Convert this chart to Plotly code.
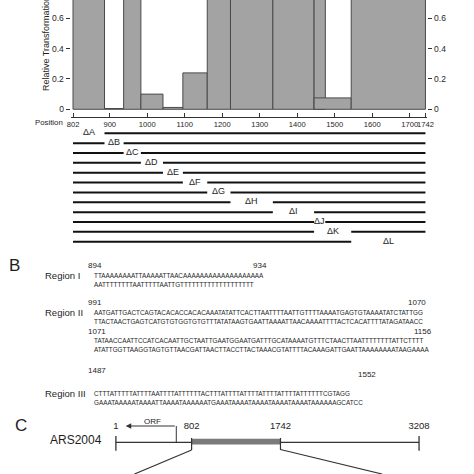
import plotly.graph_objects as go

W = H = 474

# ---------------- Panel A data ----------------
deletion_names = ["A", "B", "C", "D", "E", "F", "G", "H", "I", "J", "K", "L"]
del_start = [802, 886, 937, 983, 1042, 1095, 1160, 1222, 1335, 1445, 1445, 1544]
del_end = [886, 937, 983, 1042, 1095, 1160, 1222, 1335, 1445, 1475, 1544, 1742]
rel_transformation = [1.0, 0.005, 1.0, 0.10, 0.012, 0.24, 1.0, 1.0, 1.0, 1.0, 0.075, 1.0]
insert_start = 802
insert_end = 1742
x_tick_vals = [802, 900, 1000, 1100, 1200, 1300, 1400, 1500, 1600, 1700, 1742]
x_tick_text = ["802", "900", "1000", "1100", "1200", "1300", "1400", "1500", "1600", "1700", "1742"]
y_tick_vals = [0, 0.2, 0.4, 0.6]
y_tick_text = ["0", "0.2", "0.4", "0.6"]

# ---------------- Panel B data ----------------
region_labels = ["Region I", "Region II", "", "Region III"]
seq_start = [894, 991, 1071, 1487]
seq_end = [934, 1070, 1156, 1552]
seq_top = [
    "TTAAAAAAAATTAAAAATTAACAAAAAAAAAAAAAAAAAAA",
    "AATGATTGACTCAGTACACACCACACAAATATATTCACTTAATTTTAATTGTTTTAAAATGAGTGTAAAATATCTATTGG",
    "TATAACCAATTCCATCACAATTGCTAATTGAATGGAATGATTTGCATAAAATGTTTCTAACTTAATTTTTTTTATTCTTTT",
    "CTTTATTTTTATTTTAATTTTATTTTTTACTTTATTTTATTTTATTTTATTTTATTTTTTCGTAGG",
]
seq_bottom = [
    "AATTTTTTTTAATTTTTAATTGTTTTTTTTTTTTTTTTTTT",
    "TTACTAACTGAGTCATGTGTGGTGTGTTTATATAAGTGAATTAAAATTAACAAAATTTTACTCACATTTTATAGATAACC",
    "ATATTGGTTAAGGTAGTGTTAACGATTAACTTACCTTACTAAACGTATTTTACAAAGATTGAATTAAAAAAAATAAGAAAA",
    "GAAATAAAAATAAAATTAAAATAAAAAATGAAATAAAATAAAATAAAATAAAATAAAAAAGCATCC",
]

# ---------------- Panel C data ----------------
ars_name = "ARS2004"
ars_start = 1
ars_end = 3208
map_labels = [1, 802, 1742, 3208]
orf_from = 640
orf_to = 105

# ---------------- layout helpers (pixel -> paper) ----------------
def px(x):
    return x / W

def py(y):
    return 1 - y / H

FONT = "Liberation Sans, Arial, sans-serif"
TXT = "#1e1e1e"


def note(x, y, text, size, xanchor="center", family=FONT, **kw):
    d = dict(x=px(x), y=py(y), xref="paper", yref="paper", text=text, showarrow=False,
             xanchor=xanchor, yanchor="middle", font=dict(family=family, size=size, color=TXT))
    d.update(kw)
    return d


fig = go.Figure()

# bars of panel A
centers = [(s + e) / 2 for s, e in zip(del_start, del_end)]
widths = [e - s for s, e in zip(del_start, del_end)]
fig.add_trace(go.Bar(
    x=centers, y=rel_transformation, width=widths,
    marker=dict(color="#a3a3a3", line=dict(color="#4a4a4a", width=1)),
    xaxis="x", yaxis="y", hoverinfo="skip", showlegend=False,
))
# invisible companion so the mirrored right-hand axis is drawn
fig.add_trace(go.Scatter(
    x=[insert_end], y=[0], mode="markers", marker=dict(opacity=0),
    xaxis="x", yaxis="y3", hoverinfo="skip", showlegend=False,
))

# deletion construct lines
lx, ly = [], []
for i, (s, e) in enumerate(zip(del_start, del_end)):
    if s > insert_start:
        lx += [insert_start, s, None]
        ly += [i, i, None]
    if e < insert_end:
        lx += [e, insert_end, None]
        ly += [i, i, None]
fig.add_trace(go.Scatter(
    x=lx, y=ly, mode="lines", line=dict(color="#111111", width=2),
    xaxis="x2", yaxis="y2", hoverinfo="skip", showlegend=False,
))

annotations = []
for i, name in enumerate(deletion_names):
    annotations.append(dict(
        x=centers[i], y=i, xref="x2", yref="y2", text="\u0394" + name,
        xanchor="center", yanchor="middle",
        showarrow=False, font=dict(family=FONT, size=9, color=TXT), yshift=1,
    ))

# panel C map labels as a text trace
fig.add_trace(go.Scatter(
    x=map_labels, y=[427] * len(map_labels), mode="text",
    text=[str(v) for v in map_labels], textposition="middle center",
    textfont=dict(family=FONT, size=9.5, color=TXT),
    xaxis="x4", yaxis="y4", hoverinfo="skip", showlegend=False,
))

# y-axis title and "Position"
annotations.append(note(43, 44, "Relative Transformation", 9, textangle=-90))
annotations.append(note(62.5, 122.5, "Position", 7.8, xanchor="right"))

# ---------------- Panel B ----------------
annotations.append(note(11, 265, "B", 17))
label_y = [275, 312.7, None, 393.3]
num_y = [265.7, 302.3, 331, 370]
end_num_x = [261.5, 421.5, 428, 370.5]
end_num_y = [265.5, 302.3, 331, 374.3]
top_y = [275.7, 312.3, 340, 393.3]
bot_y = [284.3, 321.3, 349, 402.3]
for k in range(4):
    if region_labels[k]:
        annotations.append(note(39.5, label_y[k], region_labels[k], 9.5, xanchor="left"))
    annotations.append(note(84, num_y[k], str(seq_start[k]), 8, xanchor="left"))
    annotations.append(note(end_num_x[k], end_num_y[k], str(seq_end[k]), 8))
    annotations.append(note(89.5, top_y[k], seq_top[k], 6.35, xanchor="left"))
    annotations.append(note(89.5, bot_y[k], seq_bottom[k], 6.35, xanchor="left"))

# ---------------- Panel C ----------------
C_X0, C_SCALE = 114.3, 0.09657  # pixel of position 1, px per bp

def cpos(xpix):
    return 1 + (xpix - C_X0) / C_SCALE

annotations.append(note(17.5, 425, "C", 17))
annotations.append(note(74, 440, ars_name, 12))
annotations.append(dict(x=orf_to, y=426, ax=orf_from, ay=426, xref="x4", yref="y4",
                        axref="x4", ayref="y4", text="", showarrow=True, arrowhead=2,
                        arrowsize=1.1, arrowwidth=1, arrowcolor="#333333"))
annotations.append(dict(x=cpos(152), y=421.5, xref="x4", yref="y4", text="ORF",
                        xanchor="center", yanchor="middle",
                        showarrow=False, font=dict(family=FONT, size=8, color=TXT)))

LC = "#333333"
shapes = [
    dict(type="line", xref="x4", yref="y4", x0=ars_start, x1=ars_end, y0=442.3, y1=442.3,
         line=dict(color=LC, width=1.3)),
    dict(type="line", xref="x4", yref="y4", x0=ars_start, x1=ars_start, y0=436, y1=450.7,
         line=dict(color=LC, width=1.3)),
    dict(type="line", xref="x4", yref="y4", x0=ars_end, x1=ars_end, y0=436, y1=450.7,
         line=dict(color=LC, width=1.3)),
    dict(type="rect", xref="x4", yref="y4", x0=insert_start, x1=insert_end, y0=438.8, y1=444.5,
         fillcolor="#7a7a7a", line=dict(width=0)),
    dict(type="line", xref="x4", yref="y4", x0=insert_start, x1=insert_start, y0=438, y1=450,
         line=dict(color=LC, width=1.2)),
    dict(type="line", xref="x4", yref="y4", x0=insert_end, x1=insert_end, y0=438, y1=450,
         line=dict(color=LC, width=1.2)),
    dict(type="line", xref="x4", yref="y4", x0=orf_from, x1=orf_from, y0=442.3, y1=426,
         line=dict(color=LC, width=1)),
    dict(type="line", xref="x4", yref="y4", x0=insert_start, x1=cpos(133.3), y0=450, y1=474,
         line=dict(color=LC, width=1.2)),
    dict(type="line", xref="x4", yref="y4", x0=insert_end, x1=cpos(386.2), y0=449.5, y1=474,
         line=dict(color=LC, width=1.2)),
]

# axis mapping for panel A: 802 -> 70.5 px, 0.383 px per bp
A_X0, A_SCALE = 70.5, 0.383
DOM_L, DOM_R = 68.0, 432.5
xa_range = [insert_start - (A_X0 - DOM_L) / A_SCALE, insert_start + (DOM_R - A_X0) / A_SCALE]
ya_range = [-0.049, 0.7206]

axis_common = dict(showgrid=False, zeroline=False)
fig.update_layout(
    width=W, height=H, margin=dict(l=0, r=0, t=0, b=0),
    paper_bgcolor="white", plot_bgcolor="white", showlegend=False,
    xaxis=dict(domain=[px(DOM_L), px(DOM_R)], range=xa_range, anchor="y",
               showline=True, linecolor="#333333", linewidth=1,
               ticks="inside", ticklen=4, tickcolor="#333333", tickangle=0,
               tickvals=x_tick_vals, ticktext=x_tick_text,
               tickfont=dict(family=FONT, size=7.6, color=TXT), **axis_common),
    yaxis=dict(domain=[py(116.7), 1], range=ya_range, anchor="x",
               showline=False, ticks="outside", ticklen=4, tickcolor="#333333",
               tickvals=y_tick_vals, ticktext=y_tick_text,
               tickfont=dict(family=FONT, size=8.5, color=TXT), **axis_common),
    yaxis3=dict(overlaying="y", side="right", anchor="x", range=ya_range,
                showline=False, ticks="outside", ticklen=4, tickcolor="#333333",
                tickvals=y_tick_vals, ticktext=y_tick_text,
                tickfont=dict(family=FONT, size=8.5, color=TXT), **axis_common),
    xaxis2=dict(domain=[px(DOM_L), px(DOM_R)], range=xa_range, anchor="y2", visible=False),
    yaxis2=dict(domain=[py(246.6), py(128.4)], range=[11.5, -0.5], anchor="x2", visible=False),
    xaxis4=dict(domain=[0, 1], range=[cpos(0), cpos(W)], anchor="y4", visible=False),
    yaxis4=dict(domain=[0, py(410)], range=[474, 410], anchor="x4", visible=False),
    annotations=annotations,
    shapes=shapes,
)

fig.write_html("out.html", config={"displayModeBar": False},
               post_script="document.body.style.margin='0';document.body.style.overflow='hidden';")
